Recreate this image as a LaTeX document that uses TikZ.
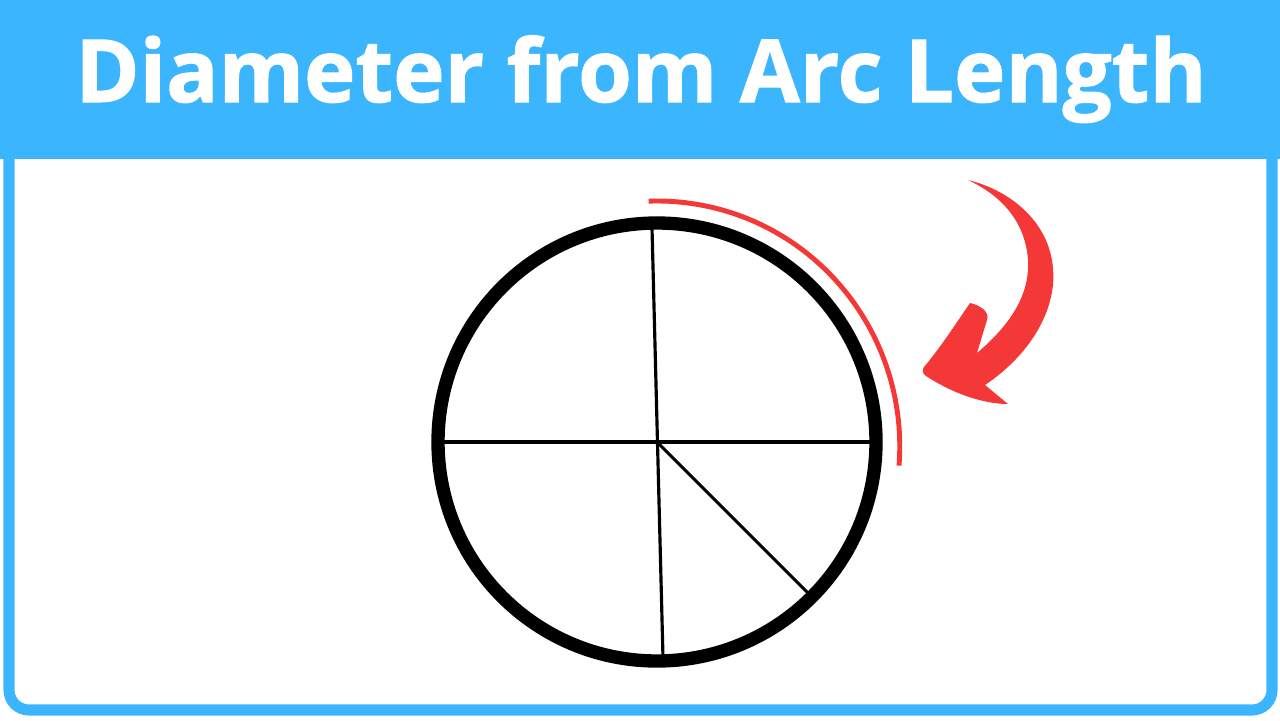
\documentclass[tikz,border=0pt]{standalone}
\usepackage{fontspec}
\setmainfont{Open Sans}
\newfontfamily\titlefont[BoldFeatures={FakeBold=1.2}]{Open Sans}
\usepackage{tikz}

\definecolor{headblue}{RGB}{60,181,255}
\definecolor{arcred}{RGB}{244,56,56}

\begin{document}
\begin{tikzpicture}[x=0.02cm, y=-0.02cm,
    every node/.style={inner sep=0pt, outer sep=0pt},
    ring/.style={line width=7.6pt, draw=black},
    spoke/.style={line width=1.8pt, draw=black},
    arcline/.style={line width=2.8pt, draw=arcred}]
            \useasboundingbox (0,0) rectangle (1280,720);
            \draw[headblue, line width=6.3pt, rounded corners=0.4cm] (9,100) rectangle (1272,710);
            \fill[headblue] (0,0) rectangle (1280,159);
            \node[anchor=base, text=white, font=\titlefont\bfseries\fontsize{49.5}{50}\selectfont] (title) at (641,102) {Diameter from Arc Length};
            \coordinate (O) at (657,442);
            \coordinate (L) at (438,442);
            \coordinate (R) at (876,442);
            \coordinate (T) at (652,228);
            \coordinate (B) at (663,658);
            \coordinate (D) at (808,593);
            \draw[spoke] (L) -- (R);
            \draw[spoke] (T) -- (B);
            \draw[spoke] (O) -- (D);
            \draw[ring] (O) circle[radius=219];
            \draw[arcline] (O) ++(-92:241) arc[start angle=-92, end angle=-45, radius=241]
                arc[start angle=-45, end angle=4.5, radius=247];
            \fill[arcred] (968,180) .. controls (1010,190) and (1058,225) .. (1053,285)
                .. controls (1048,330) and (1015,365) .. (985,385) -- (1008,404)
                .. controls (990,404) and (960,398) .. (926,376)
                .. controls (922,373) and (922,370) .. (924,367)
                .. controls (940,348) and (955,325) .. (970,303)
                .. controls (980,305) and (990,312) .. (987,320) -- (977,353)
                .. controls (1010,325) and (1030,295) .. (1028,260)
                .. controls (1025,220) and (1000,195) .. (968,180) -- cycle;
        \end{tikzpicture}
\end{document}
